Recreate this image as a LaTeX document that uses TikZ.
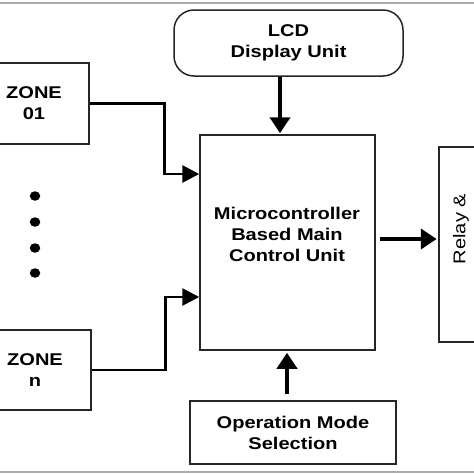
\documentclass[tikz,border=0pt]{standalone}
\usepackage{fontspec}
\setmainfont{Liberation Sans}[FakeStretch=1.18]
\usetikzlibrary{arrows.meta,shapes.geometric}
\begin{document}
\begin{tikzpicture}[x=1pt,y=-1pt,
  box/.style={draw=black!85, line width=1.5pt, inner sep=0pt},
  txt/.style={font=\fontsize{17}{21}\selectfont\bfseries, align=center, inner sep=0pt},
  thin arr/.style={line width=2.8pt, -{Triangle[length=17pt,width=17pt]}},
  thick arr/.style={line width=4.2pt, -{Triangle[length=16pt,width=20pt]}},
  dot/.style={fill=black, draw=none, ellipse, minimum width=10.5pt, minimum height=9.5pt, inner sep=0pt},
  frameline/.style={draw=black!33, line width=1.6pt}]
\useasboundingbox (0,0) rectangle (474,474);
\clip (0,0) rectangle (474,474);
\fill[white] (0,0) rectangle (474,474);
% frame lines
\coordinate (tl) at (0,3); \coordinate (tr) at (474,3);
\coordinate (bl) at (0,472); \coordinate (br) at (474,472);
\draw[frameline] (tl) -- (tr);
\draw[frameline] (bl) -- (br);
% boxes
\node[box, txt, minimum width=110pt, minimum height=81pt] (zone1) at (34,103.5) {ZONE\\01};
\node[box, txt, minimum width=112pt, minimum height=80pt] (zonen) at (35,370) {ZONE\\n};
\node[box, minimum width=175pt, minimum height=215pt] (main) at (287.5,242.5) {};
\node[txt] (maintxt) at (287,234) {Microcontroller\\Based Main\\Control Unit};
\node[box, txt, rounded corners=20pt, minimum width=229pt, minimum height=66pt] (lcd) at (288.5,43) {LCD\\Display Unit};
\node[box, txt, minimum width=206pt, minimum height=63pt] (op) at (293,432.5) {Operation Mode\\Selection};
\node[box, minimum width=60pt, minimum height=195pt] (relay) at (469,244.5) {};
\node[font=\fontsize{17}{21}\selectfont, rotate=90, inner sep=0pt] (relaytxt) at (461,229) {Relay \&};
% dots
\node[dot] (d1) at (35,196) {};
\node[dot] (d2) at (35,222) {};
\node[dot] (d3) at (35,248) {};
\node[dot] (d4) at (35,273) {};
% connectors
\draw[thin arr] (zone1.east) -- ++(75,0) |- ([yshift=68.5pt]main.west);
\draw[thin arr] (zonen.east) -- ++(74,0) |- ([yshift=-54.5pt]main.west);
\draw[thick arr] ([xshift=-8.5pt]lcd.south) -- ([xshift=-7.5pt,yshift=1pt]main.north);
\draw[thick arr] ([xshift=-6pt,yshift=6pt]op.north) -- ([xshift=-0.5pt,yshift=-2pt]main.south);
\draw[thick arr] ([xshift=4pt,yshift=3.5pt]main.east) -- ([xshift=-1.5pt,yshift=5.5pt]relay.west);
\end{tikzpicture}
\end{document}
